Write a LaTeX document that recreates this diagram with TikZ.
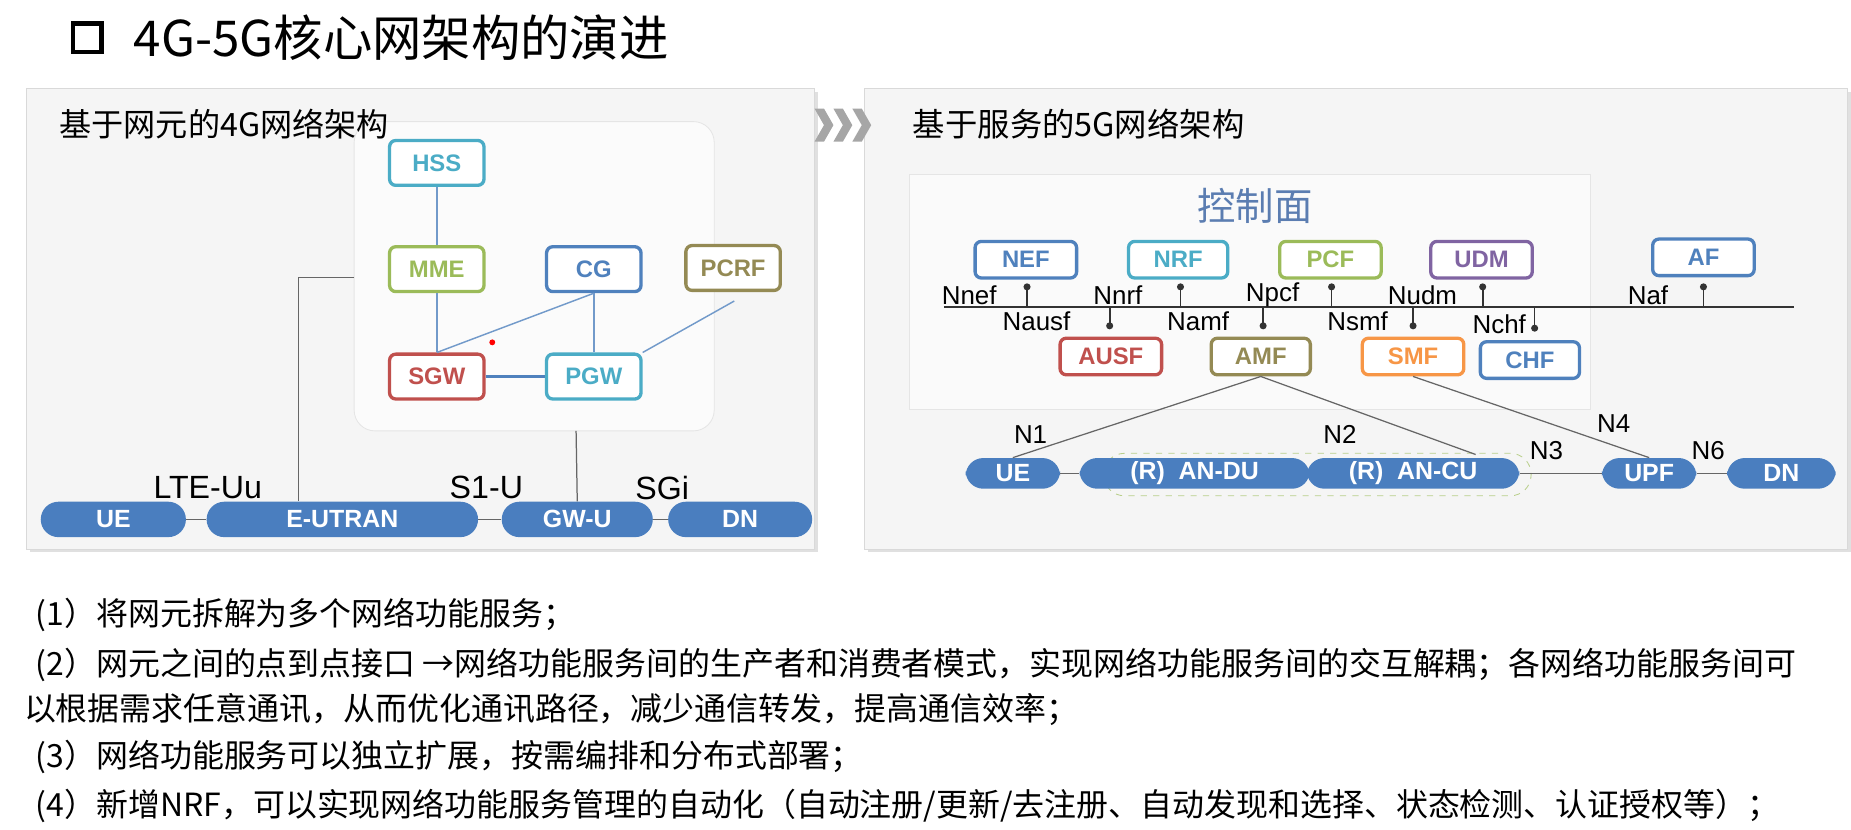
\documentclass[tikz,border=0pt]{standalone}
\usepackage{fontspec}
\setmainfont{Noto Sans CJK SC}
\newfontfamily\lat{Liberation Sans}
\definecolor{pill}{HTML}{4A7EBF}
\definecolor{cyanb}{HTML}{4BACC6}
\definecolor{greenb}{HTML}{9BBB59}
\definecolor{blueb}{HTML}{4F81BD}
\definecolor{oliveb}{HTML}{948A54}
\definecolor{redb}{HTML}{C0504D}
\definecolor{purpb}{HTML}{8064A2}
\definecolor{orab}{HTML}{F79646}
\definecolor{panel}{HTML}{F5F5F5}
\definecolor{ctl}{HTML}{5B7DB1}
\tikzset{
 nf/.style={draw=#1,text=#1,line width=1.6pt,rounded corners=3pt,fill=white,font=\lat\bfseries\fontsize{11.5}{12}\selectfont,minimum width=1.6cm,minimum height=0.76cm,inner sep=0pt},
 pl/.style={fill=pill,text=white,rounded corners=0.3cm,font=\lat\bfseries\fontsize{12}{13}\selectfont,minimum height=#1,inner sep=0pt},
 lb/.style={font=\lat\fontsize{15.5}{16}\selectfont,inner sep=0pt},
 slb/.style={font=\lat\fontsize{12.5}{13}\selectfont,inner sep=0pt},
 nlb/.style={font=\lat\fontsize{12.5}{13}\selectfont,inner sep=0pt},
 txt/.style={font=\fontsize{15.4}{17}\selectfont,anchor=west,inner sep=0pt},
 ln/.style={draw=blueb!80,line width=0.7pt},
 gl/.style={draw=black!60,line width=0.6pt},
}
\begin{document}
\begin{tikzpicture}[x=0.02cm,y=-0.02cm]
\useasboundingbox (0,0) rectangle (1568,703);
\fill[white] (0,0) rectangle (1568,703);
% title
\draw[line width=2.2pt] (62,20) rectangle (86,44);
\node[anchor=west,inner sep=0pt,font=\fontsize{23.8}{26}\selectfont] (ttl) at (113,32) {4G-5G核心网架构的演进};
% panels
\fill[black!12] (25,78) rectangle (693,468);
\fill[panel,draw=black!15] (22,75) rectangle (690,465);
\fill[black!12] (735,78) rectangle (1568,468);
\fill[panel,draw=black!15] (732,75) rectangle (1565,465);
\foreach \xx in {690,706,722}{\fill[black!35] (\xx,92)--(\xx+8,92)--(\xx+16,106)--(\xx+8,120)--(\xx,120)--(\xx+8,106)--cycle;}
% left
\draw[black!10,fill=white!60!panel,rounded corners=10pt] (300,103) rectangle (605,365);
\node[anchor=west,inner sep=0pt,font=\fontsize{15.5}{17}\selectfont] (lt) at (50,105) {基于网元的4G网络架构};
\node[anchor=west,inner sep=0pt,font=\fontsize{15.6}{17}\selectfont] (rt) at (773,105) {基于服务的5G网络架构};
\node[nf=cyanb] (hss) at (370,138) {HSS};
\node[nf=greenb] (mme) at (370,228) {MME};
\node[nf=blueb] (cg) at (503,228) {CG};
\node[nf=oliveb] (pcrf) at (621,227) {PCRF};
\node[nf=redb] (sgw) at (370,319) {SGW};
\node[nf=cyanb] (pgw) at (503,319) {PGW};
\draw[ln] (hss)--(mme); \draw[ln] (mme)--(sgw);
\draw[draw=blueb,line width=1.2pt] (sgw)--(pgw);
\draw[ln] (cg)--(pgw); \draw[ln] (cg.south)--(sgw.north);
\coordinate (pc) at (622,255); \draw[ln] (pc)--(pgw.north east);
\fill[red] (417,290) circle (2.5);
\node[pl=0.6cm,minimum width=2.46cm] (ue) at (96,440) {UE};
\node[pl=0.6cm,minimum width=4.6cm] (eu) at (290,440) {E-UTRAN};
\node[pl=0.6cm,minimum width=2.56cm] (gwu) at (489,440) {GW-U};
\node[pl=0.6cm,minimum width=2.44cm] (dn) at (627,440) {DN};
\draw[gl] (ue)--(eu); \draw[gl] (eu)--(gwu); \draw[gl] (gwu)--(dn);
\coordinate (c1) at (300,235); \coordinate (c2) at (488,365);
\draw[gl] (c1)-|(eu.north -| 253,0);
\draw[gl] (c2)--(gwu.north);
\node[lb] (l1) at (176,413) {LTE-Uu};
\node[lb] (l2) at (412,413) {S1-U};
\node[lb] (l3) at (561,413) {SGi};
% right
\draw[black!10,fill=white!50!panel] (770,148) rectangle (1347,347);
\node[inner sep=0pt,text=ctl,font=\fontsize{18.5}{20}\selectfont] (cp) at (1063,174) {控制面};
\node[nf=blueb,minimum width=1.72cm,minimum height=0.62cm] (nef) at (869,220) {NEF};
\node[nf=cyanb,minimum width=1.68cm,minimum height=0.62cm] (nrf) at (998,220) {NRF};
\node[nf=greenb,minimum width=1.72cm,minimum height=0.62cm] (pcf) at (1127,220) {PCF};
\node[nf=purpb,minimum width=1.72cm,minimum height=0.62cm] (udm) at (1255,220) {UDM};
\node[nf=blueb,minimum width=1.72cm,minimum height=0.62cm] (af) at (1443,218) {AF};
\node[nf=redb,minimum width=1.72cm,minimum height=0.62cm] (ausf) at (941,302) {AUSF};
\node[nf=oliveb,minimum width=1.68cm,minimum height=0.62cm] (amf) at (1068,302) {AMF};
\node[nf=orab,minimum width=1.72cm,minimum height=0.62cm] (smf) at (1197,302) {SMF};
\node[nf=blueb,minimum width=1.68cm,minimum height=0.62cm] (chf) at (1296,305) {CHF};
\coordinate (b1) at (800,260); \coordinate (b2) at (1520,260);
\draw[black!80,line width=1pt] (b1)--(b2);
\foreach \xx in {870,1000,1128,1256,1443}{\draw[black!80,line width=0.8pt] (\xx,260)--(\xx,243); \fill[black!80] (\xx,243) circle (3);}
\foreach \xx/\yy in {940/276,1070/276,1197/276,1300/278}{\draw[black!80,line width=0.8pt] (\xx,260)--(\xx,\yy); \fill[black!80] (\xx,\yy) circle (3);}
\node[slb] at (821,250) {Nnef};
\node[slb] at (947,250) {Nnrf};
\node[slb] at (1078,250) {Npcf};
\node[slb] at (1205,250) {Nudm};
\node[slb] at (1396,250) {Naf};
\node[slb] at (878,272) {Nausf};
\node[slb] at (1015,272) {Namf};
\node[slb] at (1150,272) {Nsmf};
\node[slb] at (1270,275) {Nchf};
\draw[dashed,draw=greenb!70,rounded corners=10pt] (935,384) rectangle (1297,420);
\node[pl=0.52cm,minimum width=1.6cm] (ue2) at (858,401) {UE};
\node[pl=0.52cm,minimum width=3.9cm] (du) at (1012,401) {(R)\ \ AN-DU};
\node[pl=0.52cm,minimum width=3.6cm] (cu) at (1197,401) {(R)\ \ AN-CU};
\node[pl=0.52cm,minimum width=1.6cm] (upf) at (1397,401) {UPF};
\node[pl=0.52cm,minimum width=1.84cm] (dn2) at (1509,401) {DN};
\draw[gl] (ue2)--(du); \draw[gl] (cu)--(upf); \draw[gl] (upf)--(dn2);
\coordinate (a1) at (1250,385);
\draw[gl] (amf.south)--(ue2.north);
\draw[gl] (amf.south)--(a1);
\draw[gl] (smf.south)--(upf.north);
\node[nlb] at (873,368) {N1};
\node[nlb] at (1135,368) {N2};
\node[nlb] at (1310,382) {N3};
\node[nlb] at (1367,359) {N4};
\node[nlb] at (1447,382) {N6};
% bottom text
\node[txt] (t1) at (30,521) {(1）将网元拆解为多个网络功能服务；};
\node[txt] (t2) at (30,563) {(2）网元之间的点到点接口 →网络功能服务间的生产者和消费者模式，实现网络功能服务间的交互解耦；各网络功能服务间可};
\node[txt] (t3) at (20,601) {以根据需求任意通讯，从而优化通讯路径，减少通信转发，提高通信效率；};
\node[txt] (t4) at (30,641) {(3）网络功能服务可以独立扩展，按需编排和分布式部署；};
\node[txt] (t5) at (30,683) {(4）新增NRF，可以实现网络功能服务管理的自动化（自动注册/更新/去注册、自动发现和选择、状态检测、认证授权等）；};
\end{tikzpicture}
\end{document}
